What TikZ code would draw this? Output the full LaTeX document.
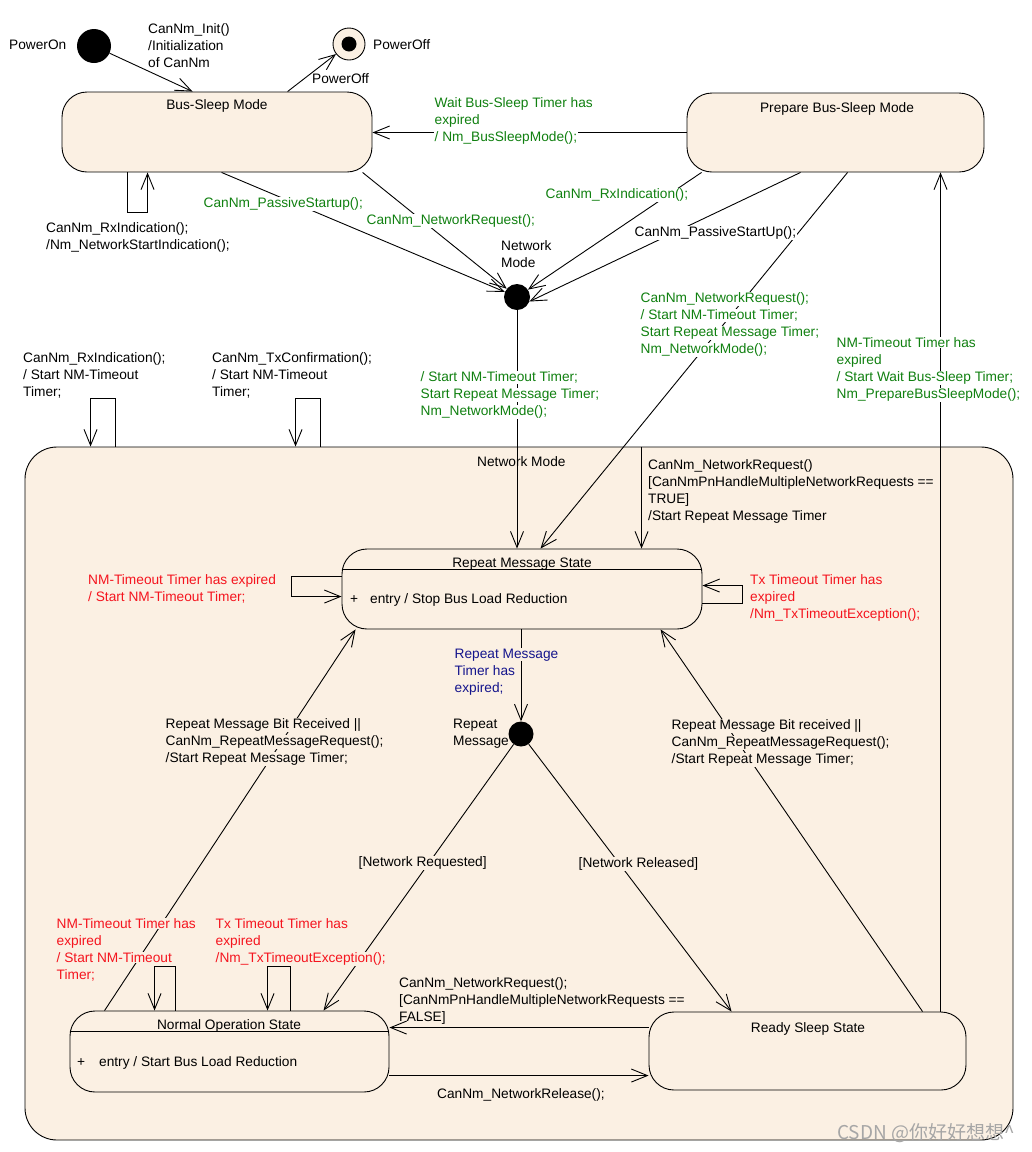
\documentclass[tikz,border=0pt]{standalone}
\usepackage{fontspec}
\setmainfont{Liberation Sans}
\newfontfamily\cjkfont{Noto Sans CJK SC}
\usetikzlibrary{arrows.meta,calc}
\definecolor{bg}{RGB}{251,240,227}
\definecolor{grn}{RGB}{16,128,16}
\definecolor{rd}{RGB}{245,20,30}
\definecolor{nv}{RGB}{20,20,140}
\newcommand\Wb[1]{{\setlength\fboxsep{0.5pt}\colorbox{white}{#1}}}
\newcommand\Bb[1]{{\setlength\fboxsep{0.5pt}\colorbox{bg}{#1}}}
\begin{document}
\begin{tikzpicture}[x=1pt,y=-1pt,
  font=\fontsize{13.7}{17}\selectfont,
  every node/.style={inner sep=0pt},
  state/.style={draw=black, line width=0.9pt, fill=bg, rounded corners=25pt, rectangle},
  conn/.style={line width=0.9pt, draw=black},
  arr/.style={conn, -{Straight Barb[length=16pt,width=13pt]}},
  lab/.style={anchor=north west, align=left},
  ttl/.style={anchor=base}]
\useasboundingbox (0,0) rectangle (1032,1152);

% composite state
\node[state, rounded corners=32pt, minimum width=988pt, minimum height=693pt] (nmc) at (519,793.5) {};
\node[anchor=base west] (nmct) at (477,466) {Network Mode};

% states
\node[state, minimum width=310pt, minimum height=80pt] (bs) at (217,132) {};
\node[ttl] (bst) at (217,109) {Bus-Sleep Mode};
\node[state, minimum width=297pt, minimum height=79pt] (pb) at (835.5,132.5) {};
\node[ttl] (pbt) at (837,112) {Prepare Bus-Sleep Mode};
\node[state, minimum width=360pt, minimum height=80pt] (rm) at (522,589) {};
\node[ttl] (rmt) at (522,567) {Repeat Message State};
\node[anchor=base west] (rmp) at (350,603) {+};
\node[anchor=base west] (rme) at (370,603) {entry / Stop Bus Load Reduction};
\node[state, minimum width=319pt, minimum height=81pt] (no) at (229.5,1051.5) {};
\node[ttl] (not) at (229,1029.5) {Normal Operation State};
\node[anchor=base west] (nop) at (77,1066) {+};
\node[anchor=base west] (noe) at (99,1066) {entry / Start Bus Load Reduction};
\node[state, minimum width=317pt, minimum height=78pt] (rs) at (807.5,1051) {};
\node[ttl] (rst) at (808,1032) {Ready Sleep State};

\draw[conn] ($(rm.north west)+(0,21)$) -- ($(rm.north east)+(0,21)$);
\draw[conn] ($(no.north west)+(0,21)$) -- ($(no.north east)+(0,21)$);

% pseudo states
\node[circle, fill=black, minimum size=34pt] (init) at (94,46) {};
\node[circle, draw=black, line width=0.9pt, fill=bg, minimum size=32pt] (fin) at (349,44) {};
\node[circle, fill=black, minimum size=15pt] (finc) at (fin) {};
\node[circle, fill=black, minimum size=26pt] (jn) at (517,297) {};
\node[circle, fill=black, minimum size=25pt] (jr) at (521,734) {};

% connectors
\draw[arr] (init) -- ($(bs.north west)+(131,0)$);
\draw[arr] ($(bs.north west)+(226,0)$) -- (fin);
\draw[arr] (pb.west) -- (pb.west -| bs.east);
\draw[arr] ($(bs.south west)+(66,0)$) -- ++(0,40) -| ($(bs.south west)+(86,0)$);
\draw[arr] ($(bs.south west)+(160,0)$) -- (jn);
\draw[arr] ($(bs.south west)+(301,0)$) -- (jn);
\draw[arr] ($(pb.south west)+(15,0)$) -- (jn);
\draw[arr] ($(pb.south west)+(114,0)$) -- (jn.-20);
\draw[arr] (jn) -- (jn |- rm.north);
\draw[arr] ($(pb.south west)+(161,0)$) -- ($(rm.north west)+(199,0)$);
\draw[arr] ($(nmc.north west)+(617,0)$) -- ($(rm.north west)+(300,0)$);
\draw[arr] ($(rs.north west)+(292,0)$) -- ($(pb.south west)+(254,0)$);
\draw[arr] ($(nmc.north west)+(91,0)$) -- ++(0,-48) -| ($(nmc.north west)+(66,0)$);
\draw[arr] ($(nmc.north west)+(296,0)$) -- ++(0,-48) -| ($(nmc.north west)+(271,0)$);
\draw[arr] ($(rm.north west)+(0,28)$) -- ++(-50,0) |- ($(rm.north west)+(0,48)$);
\draw[arr] ($(rm.north east)+(0,55)$) -- ++(40,0) |- ($(rm.north east)+(0,37)$);
\draw[arr] (rm.south -| jr) -- (jr);
\draw[arr] (jr) -- ($(no.north west)+(254,0)$);
\draw[arr] (jr) -- ($(rs.north west)+(83,0)$);
\draw[arr] ($(no.north west)+(35,0)$) -- ($(rm.south west)+(14,0)$);
\draw[arr] ($(rs.north west)+(274,0)$) -- ($(rm.south west)+(319,0)$);
\draw[arr] ($(no.north west)+(106,0)$) -- ++(0,-44) -| ($(no.north west)+(85,0)$);
\draw[arr] ($(no.north west)+(221,0)$) -- ++(0,-44) -| ($(no.north west)+(198,0)$);
\draw[arr] ($(rs.north west)+(0,16)$) -- ($(no.north east)+(0,17)$);
\draw[arr] ($(no.north east)+(0,65)$) -- ($(rs.north west)+(0,64)$);

% labels
\node[lab] (l1) at (9,40) {PowerOn};
\node[lab] (l2) at (148,23) {CanNm\_Init()\\/Initialization\\of CanNm};
\node[lab] (l3) at (312,73) {PowerOff};
\node[lab] (l4) at (373,39) {PowerOff};
\node[lab, text=grn] (l5) at (434,97) {\Wb{Wait Bus-Sleep Timer has}\\\Wb{expired}\\\Wb{/ Nm\_BusSleepMode();}};
\node[lab] (l6) at (46,222) {CanNm\_RxIndication();\\/Nm\_NetworkStartIndication();};
\node[lab, text=grn] (l7) at (203,197) {\Wb{CanNm\_PassiveStartup();}};
\node[lab, text=grn] (l8) at (366,214) {\Wb{CanNm\_NetworkRequest();}};
\node[lab] (l9) at (501,240) {Network\\Mode};
\node[lab, text=grn] (l10) at (545,188) {\Wb{CanNm\_RxIndication();}};
\node[lab] (l11) at (634,226) {\Wb{CanNm\_PassiveStartUp();}};
\node[lab, text=grn] (l12) at (640,292) {\Wb{CanNm\_NetworkRequest();}\\\Wb{/ Start NM-Timeout Timer;}\\\Wb{Start Repeat Message Timer;}\\\Wb{Nm\_NetworkMode();}};
\node[lab, text=grn] (l13) at (836,337) {\Wb{NM-Timeout Timer has}\\\Wb{expired}\\\Wb{/ Start Wait Bus-Sleep Timer;}\\\Wb{Nm\_PrepareBusSleepMode();}};
\node[lab, text=grn] (l14) at (420,371) {\Wb{/ Start NM-Timeout Timer;}\\\Wb{Start Repeat Message Timer;}\\\Wb{Nm\_NetworkMode();}};
\node[lab] (l15) at (23,352) {CanNm\_RxIndication();\\/ Start NM-Timeout\\Timer;};
\node[lab] (l16) at (212,352) {CanNm\_TxConfirmation();\\/ Start NM-Timeout\\Timer;};
\node[lab] (l17) at (648,459) {CanNm\_NetworkRequest()\\{}[CanNmPnHandleMultipleNetworkRequests ==\\TRUE]\\/Start Repeat Message Timer};
\node[lab, text=rd] (l18) at (88,574) {NM-Timeout Timer has expired\\/ Start NM-Timeout Timer;};
\node[lab, text=rd] (l19) at (750,574) {Tx Timeout Timer has\\expired\\/Nm\_TxTimeoutException();};
\node[lab, text=nv] (l20) at (454,648) {\Bb{Repeat Message}\\\Bb{Timer has}\\\Bb{expired;}};
\node[lab] (l21) at (453,719) {Repeat\\Message};
\node[lab] (l22) at (165,718) {\Bb{Repeat Message Bit Received ||}\\\Bb{CanNm\_RepeatMessageRequest();}\\\Bb{/Start Repeat Message Timer;}};
\node[lab] (l23) at (671,719) {\Bb{Repeat Message Bit received ||}\\\Bb{CanNm\_RepeatMessageRequest();}\\\Bb{/Start Repeat Message Timer;}};
\node[lab] (l24) at (358,856) {\Bb{[Network Requested]}};
\node[lab] (l25) at (578,857) {\Bb{[Network Released]}};
\node[lab, text=rd] (l26) at (56,918) {\Bb{NM-Timeout Timer has}\\\Bb{expired}\\\Bb{/ Start NM-Timeout}\\\Bb{Timer;}};
\node[lab, text=rd] (l27) at (215,918) {\Bb{Tx Timeout Timer has}\\\Bb{expired}\\\Bb{/Nm\_TxTimeoutException();}};
\node[lab] (l28) at (399,977) {CanNm\_NetworkRequest();\\{}[CanNmPnHandleMultipleNetworkRequests ==\\FALSE]};
\node[lab] (l29) at (437,1088) {CanNm\_NetworkRelease();};

\node[anchor=west, text=black!35, font=\cjkfont\fontsize{19}{19}\selectfont] (wm) at (837,1133) {CSDN @你好好想想\textasciicircum};
\end{tikzpicture}
\end{document}
